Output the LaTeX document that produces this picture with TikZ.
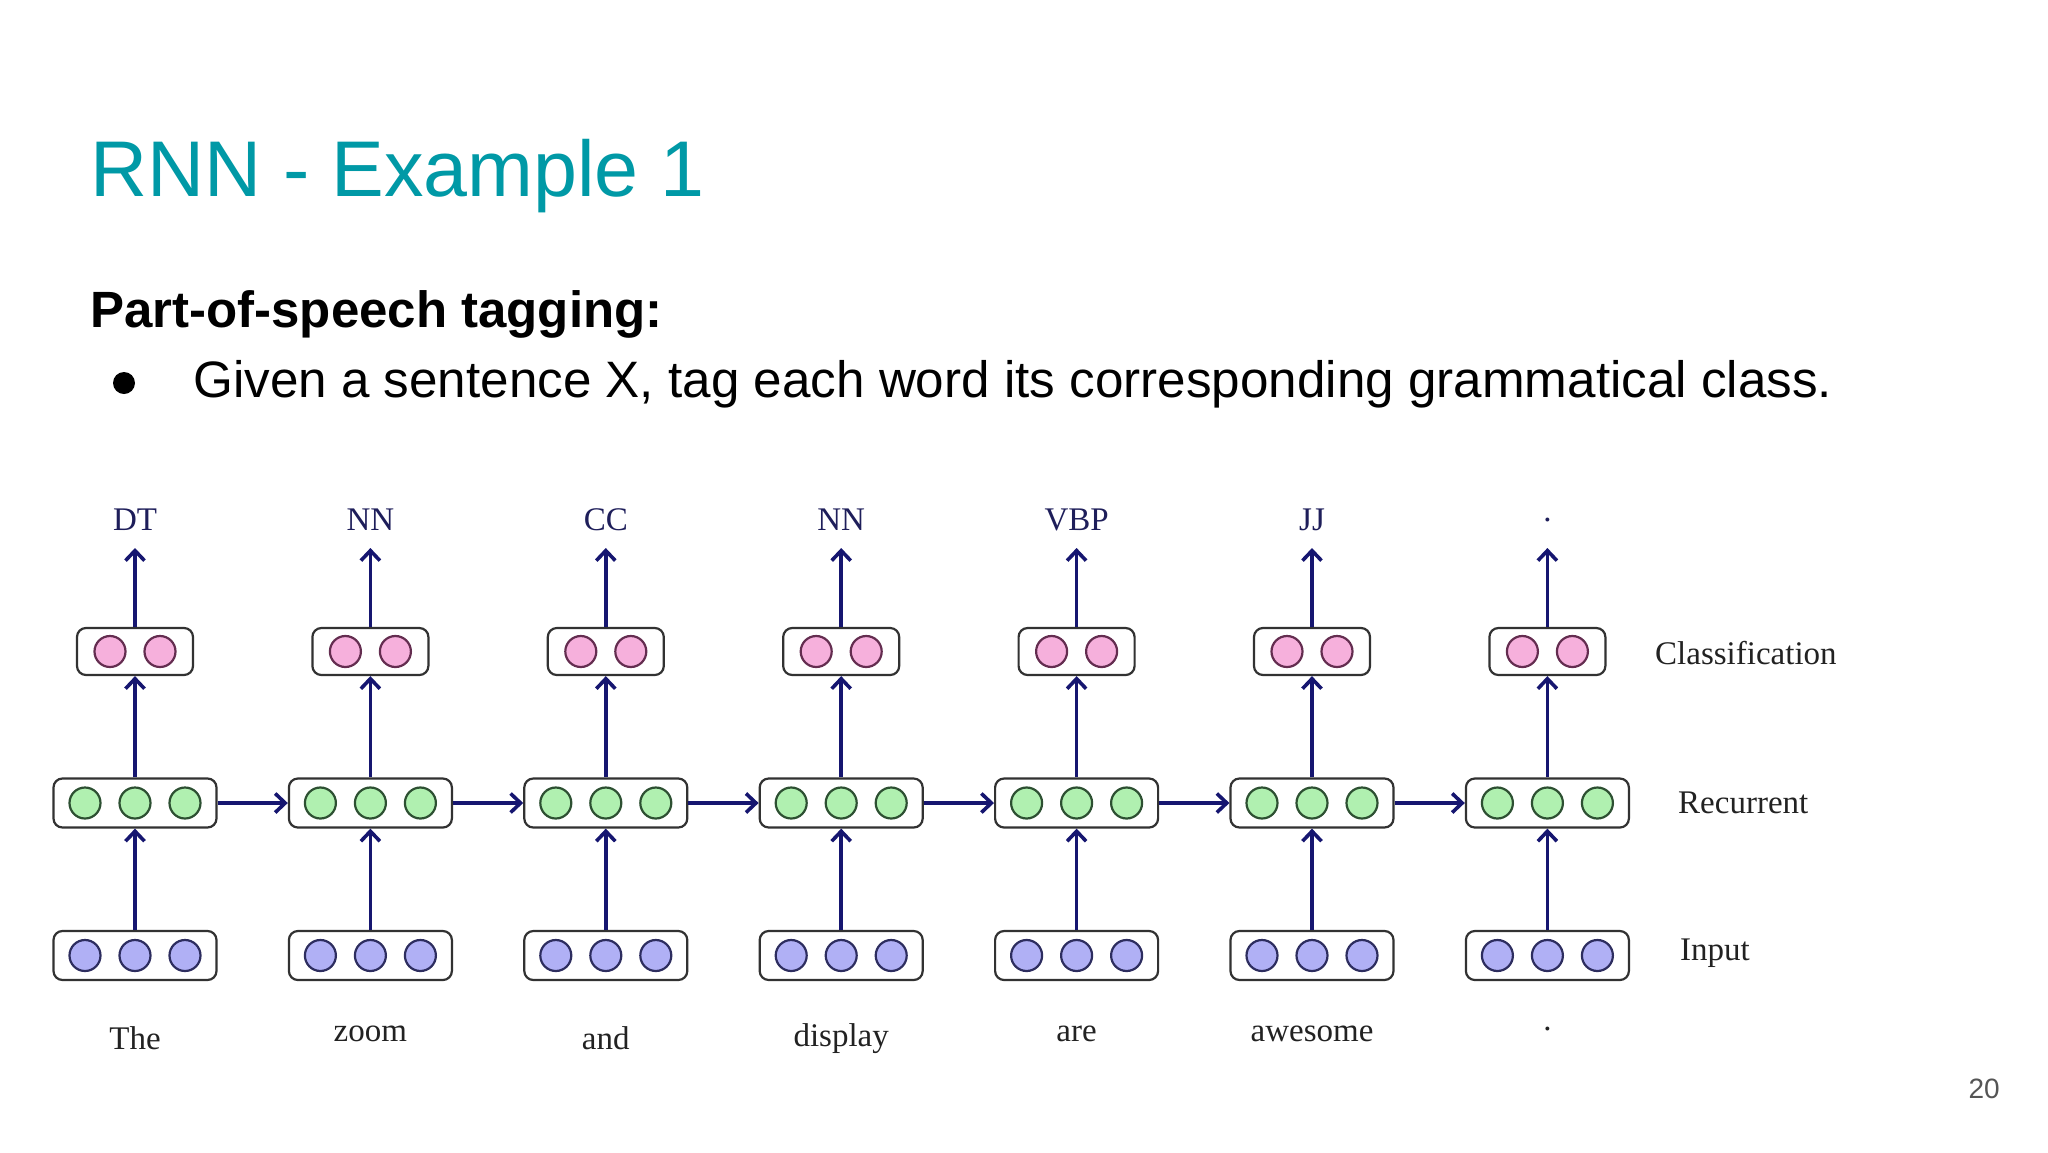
\documentclass[tikz,border=0pt]{standalone}
\usepackage{fontspec}
\setmainfont{Liberation Serif}
\newfontfamily\arialf{Liberation Sans}
\usetikzlibrary{arrows.meta}
\definecolor{titlec}{RGB}{0,153,166}
\definecolor{arrc}{RGB}{22,22,112}
\definecolor{tagc}{RGB}{30,30,90}
\definecolor{wordc}{RGB}{34,34,34}
\definecolor{boxc}{RGB}{50,50,50}
\definecolor{pinkf}{RGB}{246,176,220}
\definecolor{pinkd}{RGB}{100,45,80}
\definecolor{greenf}{RGB}{176,240,176}
\definecolor{greend}{RGB}{45,80,50}
\definecolor{bluef}{RGB}{176,176,245}
\definecolor{blued}{RGB}{45,45,95}
\definecolor{pagec}{RGB}{85,85,85}
\begin{document}
\begin{tikzpicture}[x=1pt,y=-1pt,
  box/.style={draw=boxc, line width=2.2pt, rounded corners=9pt, fill=white, inner sep=0pt},
  clsbox/.style={box, minimum width=116pt, minimum height=47pt},
  rnnbox/.style={box, minimum width=163pt, minimum height=49pt},
  unit/.style={circle, line width=2.2pt, minimum size=31pt, inner sep=0pt},
  pinku/.style={unit, draw=pinkd, fill=pinkf},
  greenu/.style={unit, draw=greend, fill=greenf},
  blueu/.style={unit, draw=blued, fill=bluef},
  conn/.style={draw=arrc, line width=3.6pt, -{Straight Barb[length=10pt,width=19pt,line width=3.6pt]}},
  lbl/.style={font=\fontsize{33}{40}\selectfont, inner sep=0pt},
]
\useasboundingbox[fill=white] (0,0) rectangle (2048,1152);

% title and text
\node[anchor=base west, inner sep=0pt, text=titlec, font=\arialf\fontsize{79}{95}\selectfont] (title) at (90,196) {RNN - Example 1};
\node[anchor=base west, inner sep=0pt, font=\arialf\bfseries\fontsize{51}{61}\selectfont] (sub) at (90,327) {Part-of-speech tagging:};
\fill (124,383) circle (11);
\node[anchor=base west, inner sep=0pt, font=\arialf\fontsize{51.2}{61}\selectfont] (given) at (193,397) {Given a sentence X, tag each word its corresponding grammatical class.};
\node[anchor=base east, inner sep=0pt, text=pagec, font=\arialf\fontsize{28}{34}\selectfont] (page) at (2000,1098) {20};

% columns
\foreach \i/\t/\w/\wy in {0/DT/The/1038, 1/NN/zoom/1034, 2/CC/and/1038, 3/NN/display/1039, 4/VBP/are/1034, 5/JJ/awesome/1034, 6/./{.}/1029} {
  \pgfmathsetmacro\cx{135+235.4*\i}
  \node[rnnbox] (inp\i) at (\cx,955.5) {};
  \node[blueu] (inp\i-a) at (\cx-50,955.5) {};
  \node[blueu] (inp\i-b) at (\cx,955.5) {};
  \node[blueu] (inp\i-c) at (\cx+50,955.5) {};
  \node[rnnbox] (rec\i) at (\cx,803) {};
  \node[greenu] (rec\i-a) at (\cx-50,803) {};
  \node[greenu] (rec\i-b) at (\cx,803) {};
  \node[greenu] (rec\i-c) at (\cx+50,803) {};
  \node[clsbox] (cls\i) at (\cx,651.5) {};
  \node[pinku] (cls\i-a) at (\cx-25,651.5) {};
  \node[pinku] (cls\i-b) at (\cx+25,651.5) {};
  \node[lbl, text=tagc] (tag\i) at (\cx,520) {\t};
  \coordinate (tip\i) at (\cx,548);
  \node[lbl, text=wordc] (word\i) at (\cx,\wy) {\w};
  \draw[conn] (inp\i.north) -- (rec\i.south);
  \draw[conn] (rec\i.north) -- (cls\i.south);
  \draw[conn] (cls\i.north) -- (tip\i);
}
\foreach \i [evaluate=\i as \j using int(\i+1)] in {0,...,5} {
  \draw[conn] (rec\i.east) -- (rec\j.west);
}

% row labels
\node[lbl, anchor=west, text=wordc] (lcls) at (1655,653) {Classification};
\node[lbl, anchor=west, text=wordc] (lrec) at (1678,803) {Recurrent};
\node[lbl, anchor=west, text=wordc] (linp) at (1680,953) {Input};
\end{tikzpicture}
\end{document}
